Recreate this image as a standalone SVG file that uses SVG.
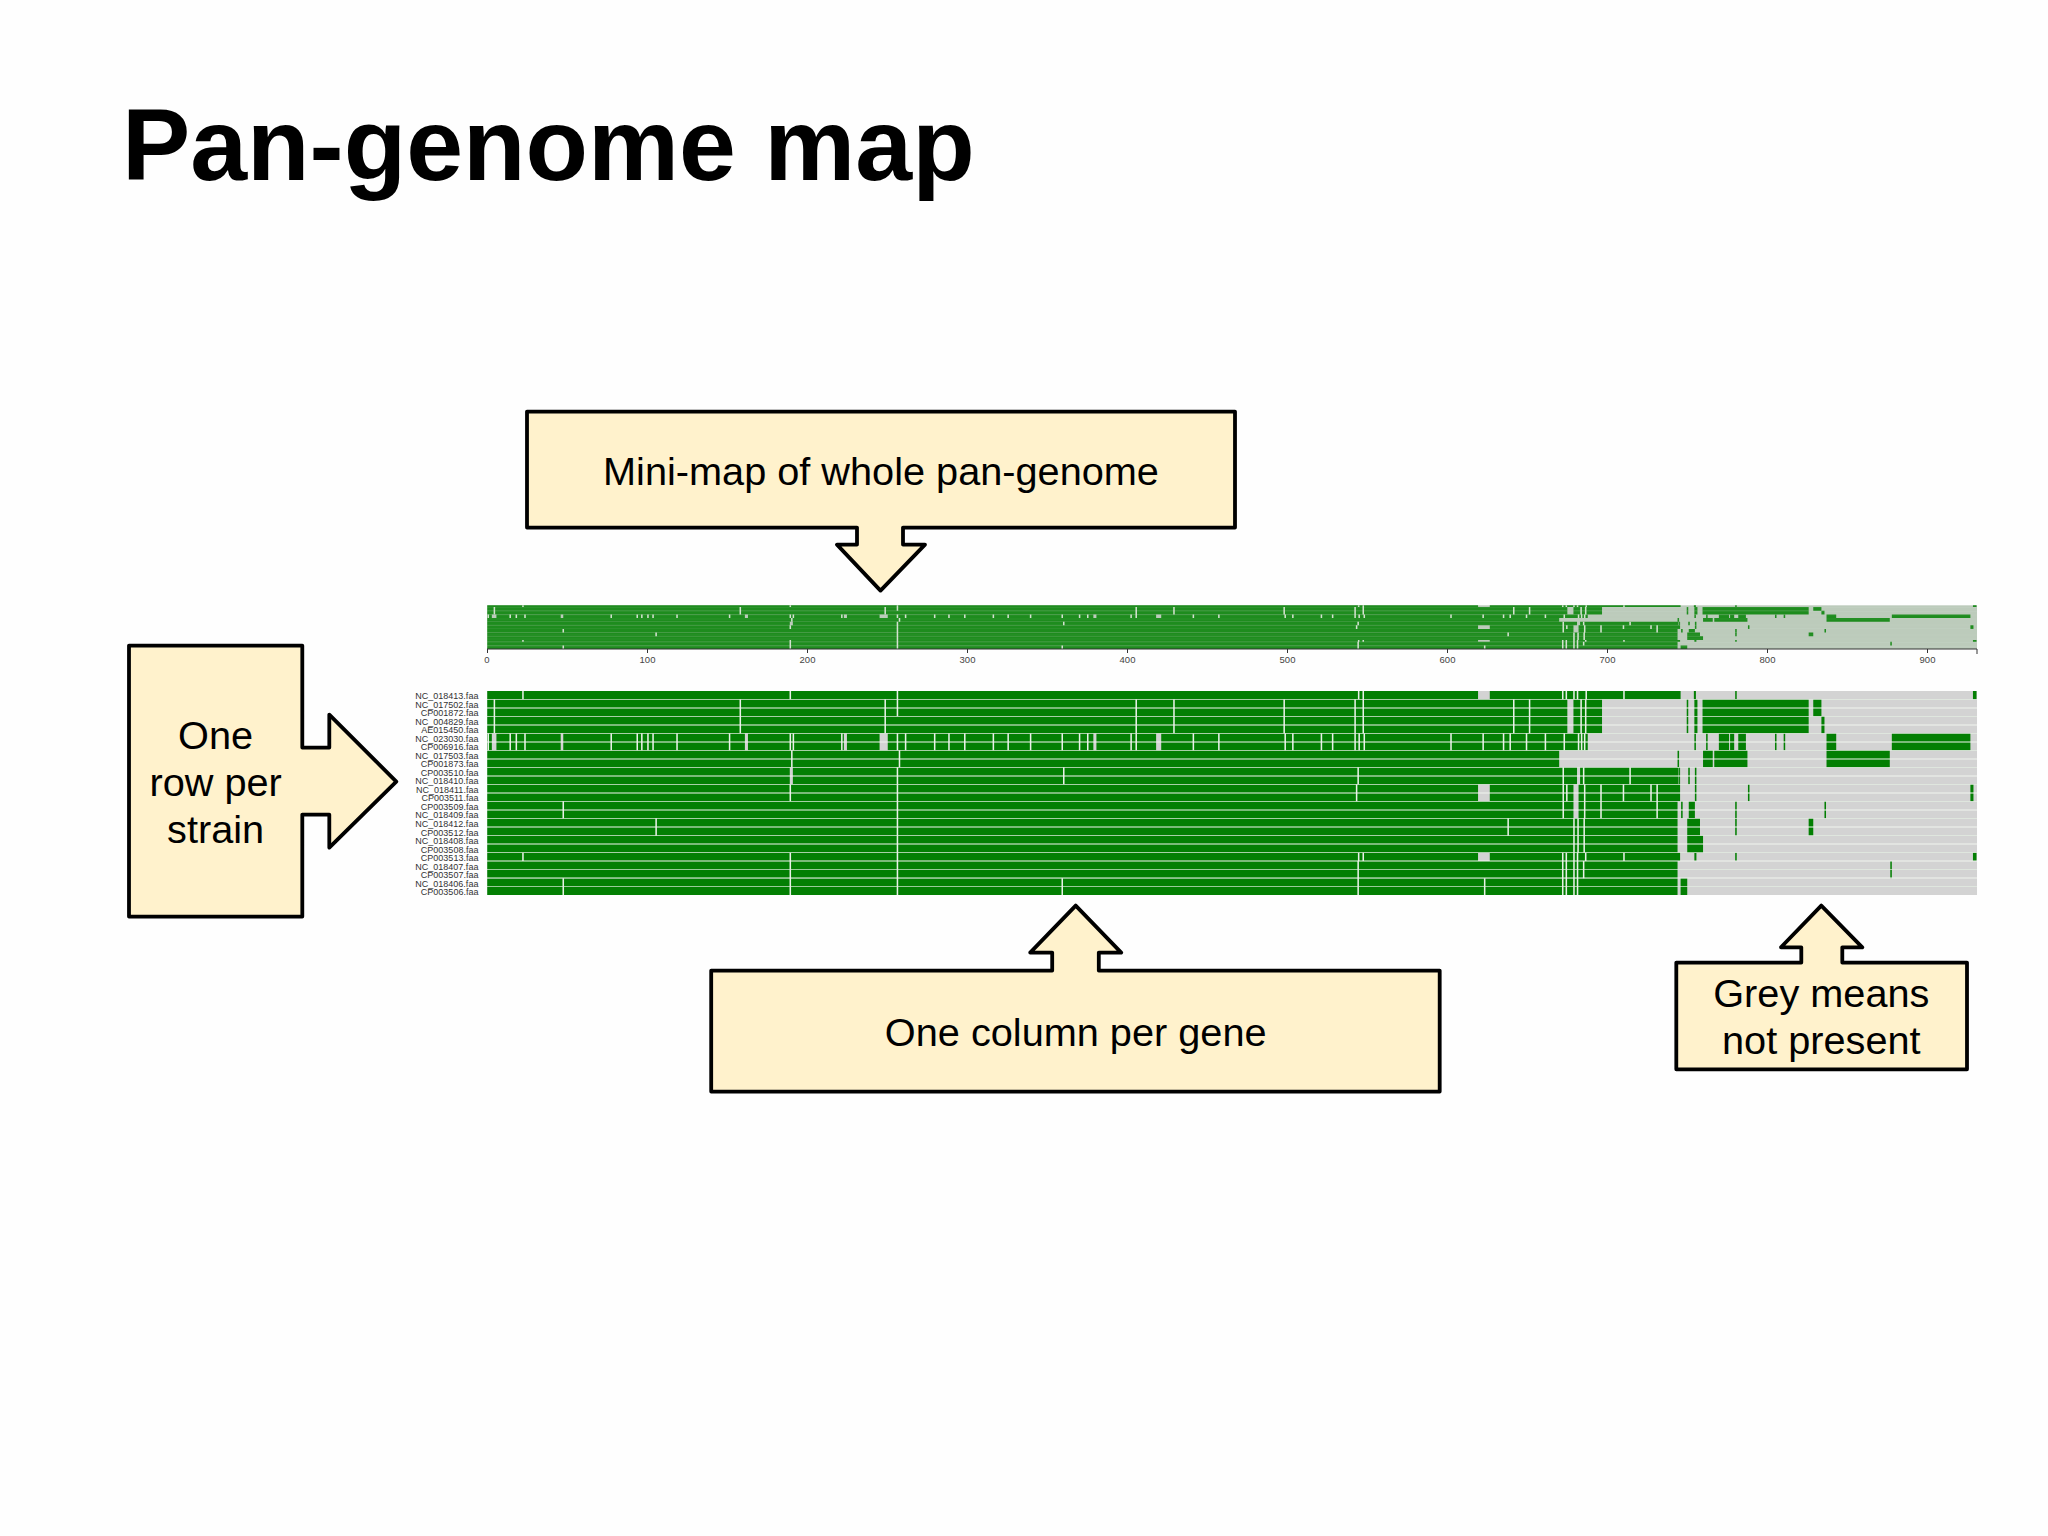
<svg xmlns="http://www.w3.org/2000/svg" width="2048" height="1536" viewBox="0 0 2048 1536">
<style>
.main{--g:#037f03;--n:#d3d3d3;--w:#e9f1e7}
.mini{--g:#1e8c1e;--n:#bccbbb;--w:#d3e2cf}
.base{fill:var(--n)}
.gr{fill:none;stroke:var(--g)}
.gap{fill:none;stroke:var(--n);stroke-width:51}
.wl{fill:none;stroke:var(--w);stroke-width:3}
.callout{fill:#fff2cc;stroke:#000;stroke-width:3.8;stroke-linejoin:round}
.ct{font-family:"Liberation Sans",Arial,sans-serif;font-size:39.7px;fill:#000;text-anchor:middle}
.lab{font-family:"Liberation Sans",Arial,sans-serif;font-size:9px;fill:#333;text-anchor:end}
.tick{font-family:"Liberation Sans",Arial,sans-serif;font-size:9.5px;fill:#444;text-anchor:middle}
</style>
<defs>
<g id="plotData">
<rect class="base" x="171" y="303" width="2920" height="612"/>
<g transform="translate(1568,0)">
<path class="gr" stroke-width="25" d="M-1397 315.5H545M568 315.5H942M968 315.5H972M1049 315.5H1052M1515 315.5H1522"/>
<path class="gr" stroke-width="51" d="M-1397 353.5H720M732 353.5H788M954 353.5H957M969 353.5H975M985 353.5H1193M1202 353.5H1218"/>
<path class="gr" stroke-width="51" d="M-1397 404.5H720M732 404.5H788M954 404.5H957M969 404.5H975M985 404.5H1193M1218 404.5H1224"/>
<path class="gr" stroke-width="51" d="M-1397 455.5H760M969 455.5H972M992 455.5H995M1017 455.5H1037M1039 455.5H1047M1055 455.5H1070M1127 455.5H1130M1144 455.5H1147M1228 455.5H1247M1356 455.5H1510"/>
<path class="gr" stroke-width="51" d="M-1397 506.5H704M936 506.5H939M986 506.5H1005M1008 506.5H1073M1228 506.5H1352"/>
<path class="gr" stroke-width="51" d="M-1397 557.5H739M745 557.5H938M939 557.5H941M957 557.5H960M970 557.5H973"/>
<path class="gr" stroke-width="51" d="M-1397 608.5H545M568 608.5H732M742 608.5H941M970 608.5H973M1074 608.5H1077M1510 608.5H1516"/>
<path class="gr" stroke-width="51" d="M-1397 659.5H732M742 659.5H936M943 659.5H946M958 659.5H970M1049 659.5H1052M1224 659.5H1227"/>
<path class="gr" stroke-width="52" d="M-1397 711H936M955 711H980M1049 711H1052M1193 711H1202"/>
<path class="gr" stroke-width="51" d="M-1397 762.5H936M955 762.5H986"/>
<path class="gr" stroke-width="25" d="M-1397 800.5H545M568 800.5H941M969 800.5H973M1049 800.5H1052M1515 800.5H1522"/>
<path class="gr" stroke-width="52" d="M-1397 839H936M1353 839H1356"/>
<path class="gr" stroke-width="50" d="M-1397 890H936M942 890H955"/>
<path class="wl" d="M311 303v25M320 303v25M711 303v25M718 303v25M733 303v25M740 303v25M757 303v25M831 303v25
M165 328v51M304 328v51M320 328v51M615 328v51M646 328v51M747 328v51M756 328v51
M165 379v51M304 379v51M320 379v51M615 379v51M646 379v51M747 379v51M756 379v51
M37 430v51M167 430v51M182 430v51M238 430v51M260 430v51M304 430v51M312 430v51M322 430v51M492 430v51M555 430v51M595 430v51M608 430v51M640 430v51M677 430v51M714 430v51M742 430v51M748 430v51M754 430v51
M310 532v51M712 532v51M752 532v51M843 532v51
M307 583v51M712 583v51M719 583v51M754 583v51M786 583v51M830 583v51M884 583v51M896 583v51
M712 634v51M754 634v51M786 634v51M896 634v51
M604 685v52M733 685v52M741 685v52M753 685v52
M733 737v51M741 737v51M753 737v51
M311 788v25M320 788v25M711 788v25M718 788v25M733 788v25M740 788v25M756 788v25M831 788v25
M310 813v52M711 813v52M718 813v52M733 813v52M740 813v52M752 813v52
M310 865v50M558 865v50M711 865v50M718 865v50M733 865v50M740 865v50"/>
</g>
<path class="gap" d="M180 455.5H189M315 455.5H320M676 455.5H682M870 455.5H876M940 455.5H956M1359 455.5H1365M1482 455.5H1492M764 557.5H770"/>
<path class="wl" d="M241 303v25M765 303v25M975 303v25
M185 328v51M667 328v51M951 328v51M975 328v51M1443 328v51M1517 328v51
M185 379v51M667 379v51M951 379v51M1443 379v51M1517 379v51
M173 430v51M216 430v51M228 430v51M245 430v51M414 430v51M465 430v51M474 430v51M486 430v51M496 430v51M543 430v51M646 430v51M765 430v51M771 430v51M866 430v51M975 430v51M991 430v51M1048 430v51M1076 430v51M1107 430v51M1163 430v51M1192 430v51M1236 430v51M1298 430v51M1332 430v51M1348 430v51M1433 430v51M1443 430v51M1555 430v51
M768 481v51M979 481v51
M975 532v51M1301 532v51
M765 583v51M975 583v51
M320 634v51M975 634v51
M502 685v52M975 685v52
M975 737v51
M241 788v25M765 788v25M975 788v25
M765 813v52M975 813v52
M320 865v50M765 865v50M975 865v50M1298 865v50"/>
</g>
</defs>

<rect width="2048" height="1536" fill="#fefefe"/>

<g id="title"><text x="122" y="179.5" font-family="'Liberation Sans',Arial,sans-serif" font-weight="700" font-size="102.3" fill="#000">Pan-genome map</text></g>

<g id="minimap">
<use class="mini" href="#plotData" transform="translate(400,583.71) scale(0.5102,0.07134)"/>
<path fill="none" stroke="#fff" stroke-opacity=".06" stroke-width="1" d="M487 607.5H1977M487 611.5H1977M487 615H1977M487 619H1977M487 625H1977M487 628.5H1977M487 635H1977M487 639H1977M487 642.5H1977M487 646.5H1977"/>
<path fill="none" stroke="#333" stroke-width="1" d="M487 649H1977M487.5 649v4M647.5 649v4M807.5 649v4M967.5 649v4M1127.5 649v4M1287.5 649v4M1447.5 649v4M1607.5 649v4M1767.5 649v4M1927.5 649v4M1977 649v5"/>
<text class="tick" x="487" y="662.5">0</text>
<text class="tick" x="647.5" y="662.5">100</text>
<text class="tick" x="807.5" y="662.5">200</text>
<text class="tick" x="967.5" y="662.5">300</text>
<text class="tick" x="1127.5" y="662.5">400</text>
<text class="tick" x="1287.5" y="662.5">500</text>
<text class="tick" x="1447.5" y="662.5">600</text>
<text class="tick" x="1607.5" y="662.5">700</text>
<text class="tick" x="1767.5" y="662.5">800</text>
<text class="tick" x="1927.5" y="662.5">900</text>
</g>

<g id="mainmap">
<use class="main" href="#plotData" transform="translate(400,590) scale(0.5102,0.33333)"/>
<path fill="none" stroke="#e4eee2" stroke-opacity=".75" stroke-width=".9" d="M487 699.5H1977M487 716.5H1977M487 733.5H1977M487 750.5H1977M487 767.5H1977M487 784.5H1977M487 801.5H1977M487 818.5H1977M487 835.5H1977M487 852.5H1977M487 869.5H1977M487 886.5H1977"/>
<path fill="none" stroke="#f1f6ef" stroke-width="1.1" d="M487 708H1977M487 725H1977M487 742H1977M487 759H1977M487 776H1977M487 793H1977M487 810H1977M487 827H1977M487 844H1977M487 861H1977M487 878H1977"/>
<g id="strain-labels" transform="translate(-0.6,0)">
<text class="lab" x="479" y="699">NC_018413.faa</text>
<text class="lab" x="479" y="707.5">NC_017502.faa</text>
<text class="lab" x="479" y="716">CP001872.faa</text>
<text class="lab" x="479" y="724.6">NC_004829.faa</text>
<text class="lab" x="479" y="733.1">AE015450.faa</text>
<text class="lab" x="479" y="741.6">NC_023030.faa</text>
<text class="lab" x="479" y="750.2">CP006916.faa</text>
<text class="lab" x="479" y="758.7">NC_017503.faa</text>
<text class="lab" x="479" y="767.2">CP001873.faa</text>
<text class="lab" x="479" y="775.8">CP003510.faa</text>
<text class="lab" x="479" y="784.3">NC_018410.faa</text>
<text class="lab" x="479" y="792.8">NC_018411.faa</text>
<text class="lab" x="479" y="801.4">CP003511.faa</text>
<text class="lab" x="479" y="809.9">CP003509.faa</text>
<text class="lab" x="479" y="818.4">NC_018409.faa</text>
<text class="lab" x="479" y="827">NC_018412.faa</text>
<text class="lab" x="479" y="835.5">CP003512.faa</text>
<text class="lab" x="479" y="844">NC_018408.faa</text>
<text class="lab" x="479" y="852.6">CP003508.faa</text>
<text class="lab" x="479" y="861.1">CP003513.faa</text>
<text class="lab" x="479" y="869.6">NC_018407.faa</text>
<text class="lab" x="479" y="878.2">CP003507.faa</text>
<text class="lab" x="479" y="886.7">NC_018406.faa</text>
<text class="lab" x="479" y="895.2">CP003506.faa</text>
</g>
</g>

<g id="callout-minimap" transform="translate(0,0.6)">
<path class="callout" d="M527 411H1235V527H903V544H925L880.5 590L837 544H857V527H527Z"/>
<text class="ct" x="881" y="484.4">Mini-map of whole pan-genome</text>
</g>
<g id="callout-row" transform="translate(0.3,0.6)">
<path class="callout" d="M128.7 645H302V747H329V714L396 781L329 847V814H302V916H128.7Z"/>
<text class="ct" x="215.3" y="748.5">One</text>
<text class="ct" x="215.3" y="795">row per</text>
<text class="ct" x="215.3" y="842">strain</text>
</g>
<g id="callout-column" transform="translate(0.2,0.6)">
<path class="callout" d="M711 970H1052V952H1030L1075.5 905L1121 952H1098.6V970H1439.5V1091H711Z"/>
<text class="ct" x="1075.5" y="1045.5">One column per gene</text>
</g>
<g id="callout-grey" transform="translate(0.3,0.6)">
<path class="callout" d="M1676 962H1801V946.7H1780.7L1821 905L1862 946.7H1842V962H1966.7V1068.7H1676Z"/>
<text class="ct" x="1821" y="1006.5">Grey means</text>
<text class="ct" x="1821" y="1053.5">not present</text>
</g>
</svg>
